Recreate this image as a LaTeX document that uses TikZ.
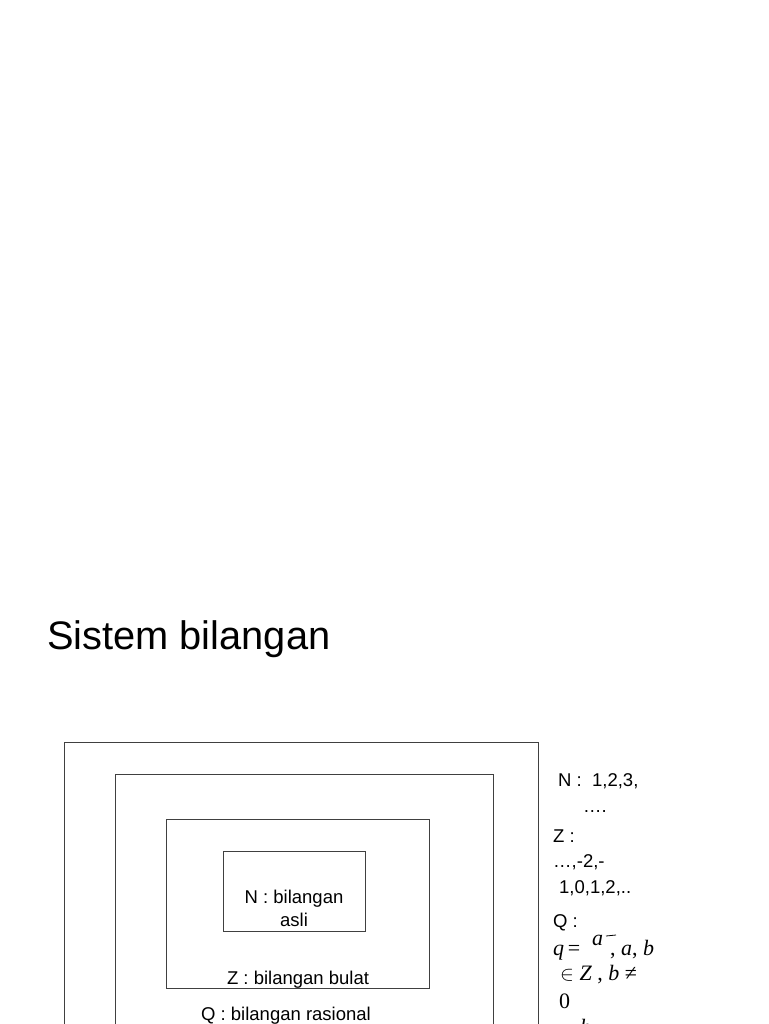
\documentclass[tikz,border=0pt]{standalone}
\usepackage{fontspec}
\setmainfont{Liberation Sans}
\newfontfamily\tms{Liberation Serif}
\begin{document}
\begin{tikzpicture}[x=1pt,y=-1pt,
  setbox/.style={draw=black!75, line width=0.9pt, inner sep=0pt, anchor=north west},
  lbl/.style={anchor=base west, inner sep=0pt, font=\fontsize{18.5}{22}\selectfont},
  clbl/.style={anchor=base, inner sep=0pt, font=\fontsize{18.5}{22}\selectfont},
  mth/.style={anchor=base west, inner sep=0pt, font=\fontsize{22}{26}\tms\selectfont}]
\useasboundingbox (0,0) rectangle (768,1024);
\clip (0,0) rectangle (768,1024);
% title
\node[anchor=base west, inner sep=0pt, font=\fontsize{39.8}{46}\selectfont] (title) at (47,649) {Sistem bilangan};
% nested boxes
\node[setbox, minimum width=474pt, minimum height=340pt] (Rbox) at (64,742) {};
\node[setbox, minimum width=378pt, minimum height=300pt] (Qbox) at (115,774) {};
\node[setbox, minimum width=263pt, minimum height=169pt] (Zbox) at (166,819) {};
\node[setbox, minimum width=142pt, minimum height=80pt] (Nbox) at (223,851) {};
% box labels
\node[clbl] (Nl1) at (294,903) {N : bilangan};
\node[clbl] (Nl2) at (294,926) {asli};
\node[clbl] (Zl) at (298,984) {Z : bilangan bulat};
\node[clbl] (Ql) at (286,1020) {Q : bilangan rasional};
% right-hand notes
\node[lbl] (n1) at (558,786) {N :\ \ 1,2,3,};
\node[lbl] (n2) at (583,812) {….};
\node[lbl] (z1) at (553,842) {Z :};
\node[lbl] (z2) at (553,867) {…,-2,-};
\node[lbl] (z3) at (559,893) {1,0,1,2,..};
\node[lbl] (q1) at (553,927) {Q :};
\node[mth] (q2) at (553,955) {\itshape q\upshape\,=};
\node[mth] (q3) at (592,945) {\itshape a};
\coordinate (barL) at (606,936);
\coordinate (barR) at (616,935);
\draw[line width=0.8pt] (barL) -- (barR);
\node[mth] (q4) at (610,955) {, \itshape a\upshape, \itshape b};
\node[mth] (q5) at (560,980) {$\in$ \itshape Z\upshape\ , \itshape b\upshape\ ≠};
\node[mth] (q6) at (559,1008) {0};
\node[mth] (q7) at (580,1034) {\itshape b};
\end{tikzpicture}
\end{document}
